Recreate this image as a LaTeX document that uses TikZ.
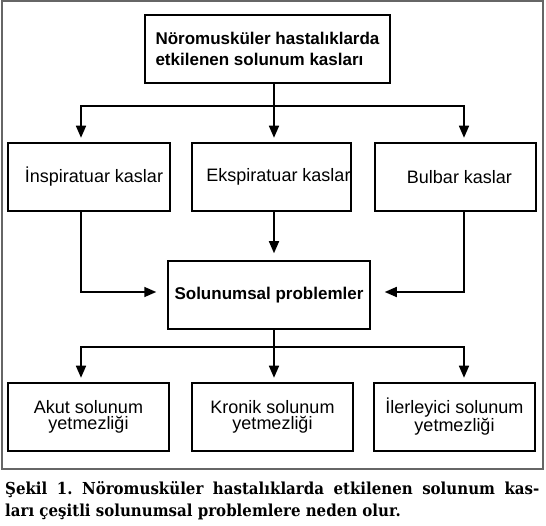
\documentclass[tikz,border=0pt]{standalone}
\usepackage{fontspec}
\setmainfont{Liberation Sans}
\newfontfamily\capfont{DejaVu Serif}
\usetikzlibrary{arrows.meta}
\frenchspacing

\tikzset{
  box/.style={draw, line width=1.5pt, minimum height=68pt, inner sep=0pt,
    font=\fontsize{18}{16.5}\selectfont},
  head/.style={font=\bfseries\fontsize{17}{21}\selectfont},
  arr/.style={line width=1.6pt, shorten >=4.5pt,
    -{Triangle[length=12pt,width=10pt]}},
  captext/.style={anchor=base west, inner sep=0pt,
    font=\capfont\bfseries\fontsize{16.5}{22}\selectfont}
}

\begin{document}
\begin{tikzpicture}[x=1pt,y=-1pt]
  \useasboundingbox (0,0) rectangle (546,526);
  %frame
  \draw[black!60, line width=2pt] (1.5,1.5) rectangle (543,469);
  %boxes
  \node[box, head, minimum width=245pt, align=left] (top) at (267.5,49)
        {Nöromusküler hastalıklarda\\etkilenen solunum kasları};
  \node[box, minimum width=162pt] (insp) at (89,177)
        {\hspace*{10pt}İnspiratuar kaslar};
  \node[box, minimum width=159pt] (eksp) at (271.5,177)
        {\hspace*{14pt}Ekspiratuar kaslar};
  \node[box, minimum width=161pt] (bulb) at (455.5,177)
        {\hspace*{8pt}Bulbar kaslar};
  \node[box, head, minimum width=202pt] (solu) at (269,295)
        {Solunumsal problemler};
  \node[box, minimum width=161pt, align=center] (akut) at (88.5,417)
        {Akut solunum\\yetmezliği};
  \node[box, minimum width=161pt, align=center] (kron) at (272.5,417)
        {Kronik solunum\\yetmezliği};
  \node[box, minimum width=161pt, align=center] (iler) at (454.5,417)
        {İlerleyici solunum\\yetmezliği};
  %columns of the connectors
  \coordinate (c1) at (81,0);
  \coordinate (c2) at (274,0);
  \coordinate (c3) at (464,0);
  \coordinate (fork1) at (274,106);
  \coordinate (fork2) at (274,347);
  %upper tree
  \draw[arr] (top.south -| c2) -- (c2 |- eksp.north);
  \draw[arr] (fork1) -| (c1 |- insp.north);
  \draw[arr] (fork1) -| (c3 |- bulb.north);
  %into the problems
  \draw[arr, shorten >=11pt] (insp.south -| c1) |- ([yshift=3pt]solu.west);
  \draw[arr, shorten >=14pt] (bulb.south -| c3) |- ([yshift=3pt]solu.east);
  \draw[arr, shorten >=7pt] (eksp.south -| c2) -- (c2 |- solu.north);
  %lower tree
  \draw[arr] (solu.south -| c2) -- (c2 |- kron.north);
  \draw[arr] (fork2) -| (c1 |- akut.north);
  \draw[arr] (fork2) -| (c3 |- iler.north);
  %caption
  \node[captext] (cap1) at (5,494.3)
        {\scalebox{0.91}[1]{\makebox[587pt][s]{Şekil 1. Nöromusküler hastalıklarda etkilenen solunum kas-}}};
  \node[captext] (cap2) at (5,516.5)
        {\scalebox{0.91}[1]{ları çeşitli solunumsal problemlere neden olur.}};
\end{tikzpicture}
\end{document}
